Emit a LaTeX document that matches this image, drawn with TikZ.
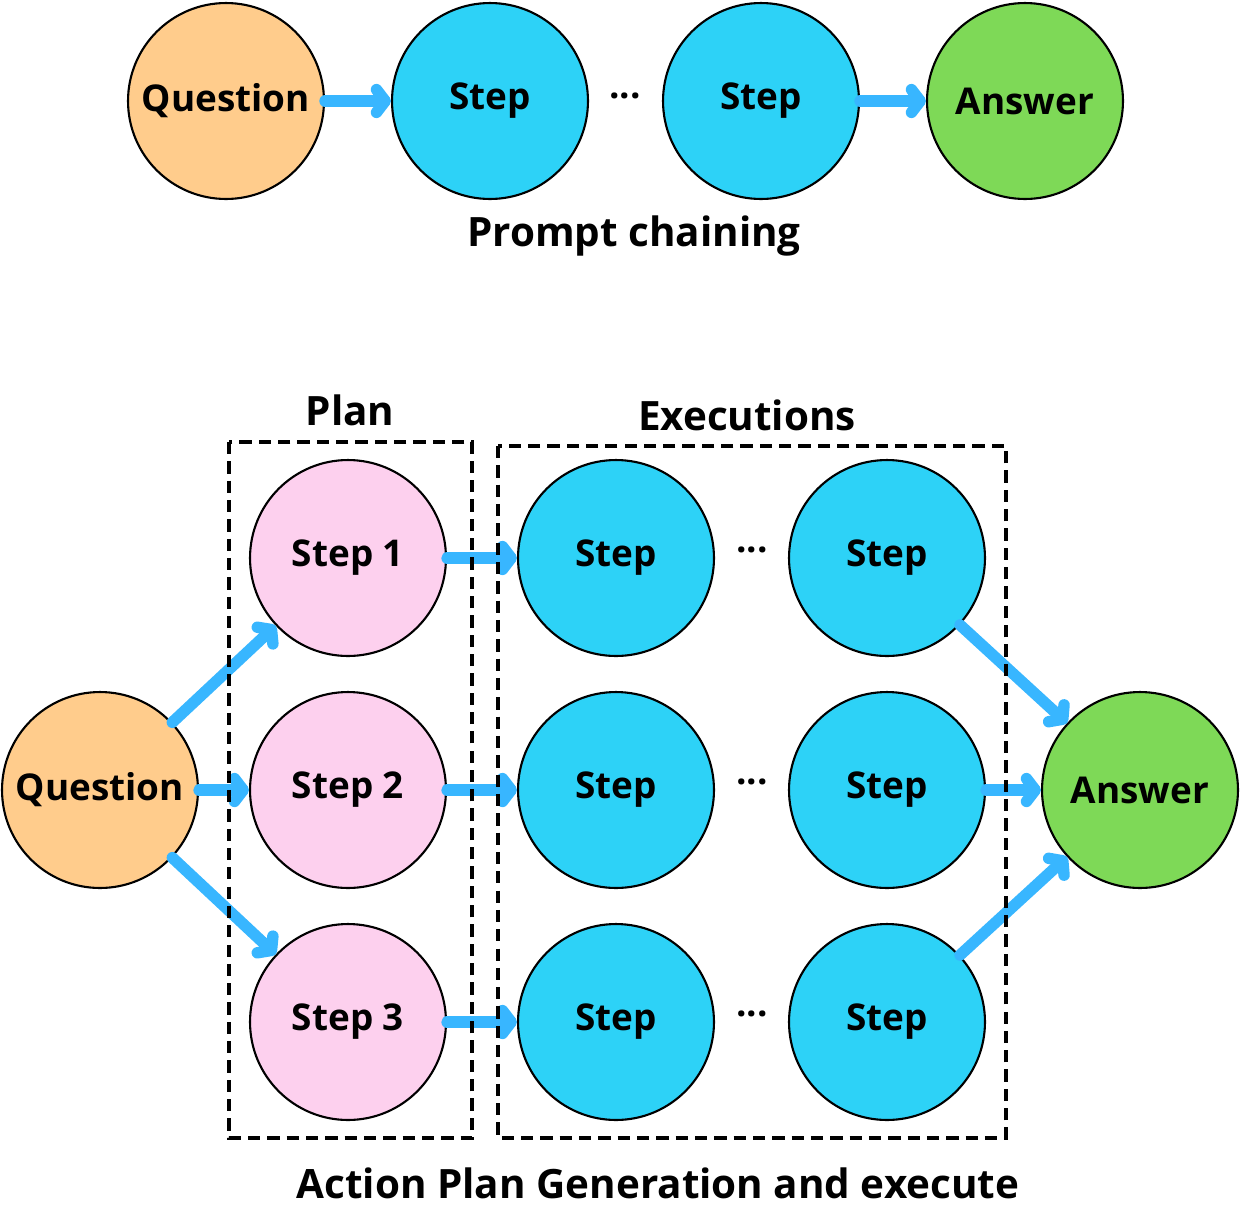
\documentclass[tikz,border=0pt]{standalone}
\usepackage{fontspec}
\setmainfont{Open Sans}
\usetikzlibrary{arrows.meta}
\definecolor{qorange}{HTML}{FFCC8C}
\definecolor{scyan}{HTML}{2DD2F7}
\definecolor{agreen}{HTML}{7ED957}
\definecolor{ppink}{HTML}{FDD0EE}
\definecolor{arr}{HTML}{38B6FF}
\begin{document}
\begin{tikzpicture}[x=0.02cm,y=-0.02cm,
  c/.style={circle,draw=black,line width=1.2pt,minimum size=3.92cm,inner sep=0pt,font=\fontsize{21}{24}\selectfont\bfseries},
  q/.style={c,fill=qorange},s/.style={c,fill=scyan},a/.style={c,fill=agreen},p/.style={c,fill=ppink},
  ar/.style={draw=arr,line width=6.5pt,line cap=round,-{Straight Barb[length=5pt,width=13pt,line cap=round,line join=round]}},
  box/.style={draw=black,line width=2.2pt,dash pattern=on 7pt off 4pt},
  ttl/.style={font=\fontsize{23}{26}\selectfont\bfseries},
  dots/.style={font=\fontsize{21}{24}\selectfont\bfseries}]
\useasboundingbox (0,0) rectangle (1241,1211);
% top
\node[q] (q1) at (226,101) {Question};
\node[s] (s1) at (490,101) {Step};
\node[s] (s2) at (761,101) {Step};
\node[a] (a1) at (1025,101) {Answer};
\node[dots] (d0) at (625,96) {...};
\node[ttl] (t1) at (634,236) {Prompt chaining};
\draw[ar] (q1) -- (s1);
\draw[ar] (s2) -- (a1);
% bottom
\node[q] (q2) at (100,790) {Question};
\node[p] (p1) at (348,558) {Step 1};
\node[p] (p2) at (348,790) {Step 2};
\node[p] (p3) at (348,1022) {Step 3};
\foreach \i/\y in {1/558,2/790,3/1022}{
  \node[s] (e\i a) at (616,\y) {Step};
  \node[s] (e\i b) at (887,\y) {Step};
  \node[dots] (d\i) at (752,\y-8) {...};
  \draw[ar] (p\i) -- (e\i a);
}
\node[a] (a2) at (1140,790) {Answer};
\draw[ar] (q2) -- (p1);
\draw[ar] (q2) -- (p2);
\draw[ar] (q2) -- (p3);
\draw[ar] (e1b) -- (a2);
\draw[ar] (e2b) -- (a2);
\draw[ar] (e3b) -- (a2);
\draw[box] (229,442) rectangle (472,1138);
\draw[box] (498,446) rectangle (1006,1138);
\node[ttl] (tp) at (350,410) {Plan};
\node[ttl] (te) at (747,415) {Executions};
\node[ttl] (t2) at (658,1183) {Action Plan Generation and execute};
\end{tikzpicture}
\end{document}
